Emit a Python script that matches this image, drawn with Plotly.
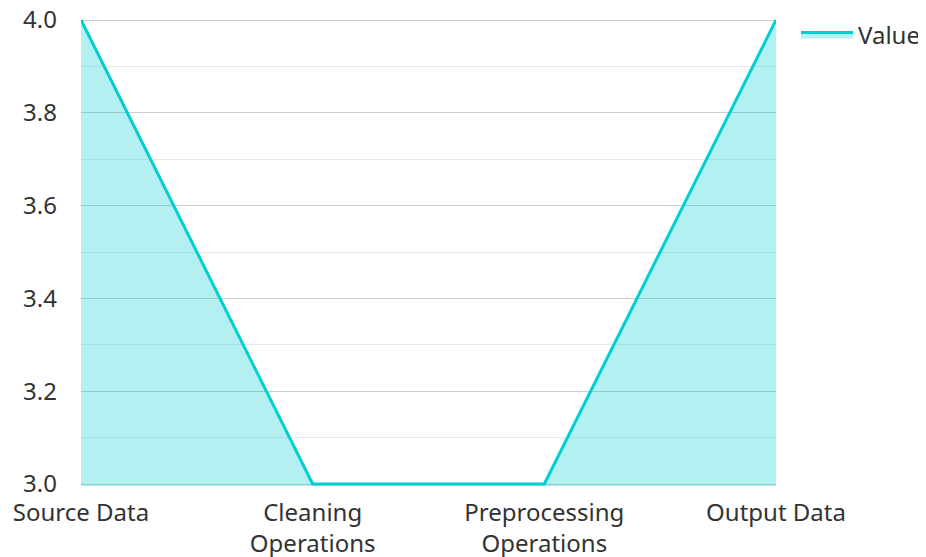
import plotly.graph_objects as go

categories = ["Source Data", "Cleaning<br>Operations", "Preprocessing<br>Operations", "Output Data"]
values = [4, 3, 3, 4]
series_name = "Value"

fig = go.Figure()
fig.add_trace(go.Scatter(
    x=categories, y=values, name=series_name, mode="lines",
    line=dict(color="#00CED1", width=3),
    fill="tozeroy", fillcolor="rgba(0,206,209,0.3)",
    cliponaxis=False,
))

fig.update_layout(
    width=926, height=557,
    margin=dict(l=73, r=158, t=10, b=79),
    paper_bgcolor="white", plot_bgcolor="white",
    font=dict(family="Noto Sans", size=24, color="#333333"),
    showlegend=True,
    legend=dict(xref="container", yref="container", x=0.851, xanchor="left",
                y=0.992, yanchor="top", itemwidth=52,
                font=dict(size=24, color="#333333"), bgcolor="rgba(0,0,0,0)"),
    xaxis=dict(type="category", range=[0, 3], showgrid=False, showline=False,
               zeroline=False, ticks="", automargin=False, ticklabelstandoff=10,
               ticklabeloverflow="allow",
               tickfont=dict(size=24, color="#333333")),
    yaxis=dict(range=[2.9957, 4.0043], tickvals=[3.0, 3.2, 3.4, 3.6, 3.8, 4.0],
               tickformat=".1f", showgrid=True,
               gridcolor="#cccccc", gridwidth=1, zeroline=False, showline=False,
               ticks="", automargin=False, ticklabelstandoff=23,
               ticklabeloverflow="allow",
               tickfont=dict(size=24, color="#333333"),
               minor=dict(tickvals=[3.1, 3.3, 3.5, 3.7, 3.9], showgrid=True,
                          gridcolor="#e8e8e8", gridwidth=1)),
)

fig.write_html("out.html")
